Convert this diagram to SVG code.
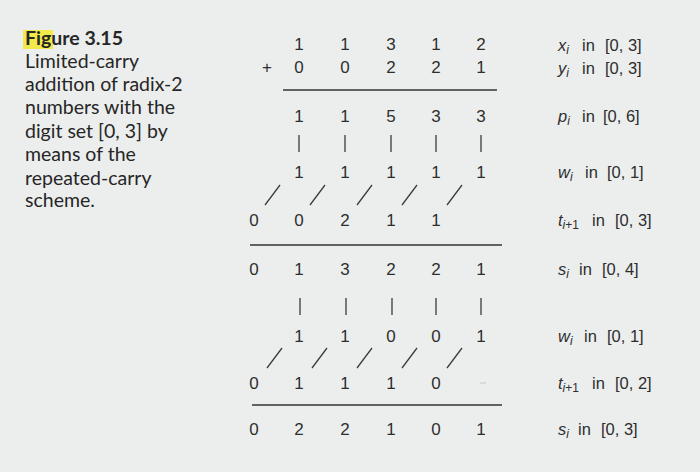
<svg xmlns="http://www.w3.org/2000/svg" width="700" height="472" viewBox="0 0 700 472">
<style>
.cap{font-family:Lato,"Open Sans","Liberation Sans",sans-serif;font-size:19.5px;fill:#262626}
.d{font-family:"Liberation Sans",Arial,sans-serif;font-size:17px;fill:#2e2e2e;text-anchor:middle}
.lb{font-family:"Liberation Sans",Arial,sans-serif;font-size:16.5px;fill:#2e2e2e}
.it{font-style:italic}
.sub{font-size:12px}
.ln{stroke:#333;stroke-width:1.6;fill:none}
.cn{stroke:#3a3a3a;stroke-width:1.3;fill:none}
</style>
<rect width="700" height="472" fill="#eceeed"/>
<g id="caption">
<rect x="23" y="30" width="30" height="19" fill="#f2ea4a"/>
<text class="cap" x="25" y="45"><tspan font-weight="bold">Figure 3.15</tspan></text>
<text class="cap" x="25" y="68">Limited-carry</text>
<text class="cap" x="25" y="91">addition of radix-2</text>
<text class="cap" x="25" y="114">numbers with the</text>
<text class="cap" x="25" y="138">digit set [0, 3] by</text>
<text class="cap" x="25" y="161">means of the</text>
<text class="cap" x="25" y="185">repeated-carry</text>
<text class="cap" x="25" y="207">scheme.</text>
</g>
<g id="rules">
<line class="ln" x1="283" y1="90" x2="497" y2="90"/>
<line class="ln" x1="250" y1="245" x2="502" y2="245"/>
<line class="ln" x1="252" y1="405" x2="502" y2="405"/>
</g>
<g id="row-x">
<text class="d" x="299" y="50">1</text><text class="d" x="345" y="50">1</text><text class="d" x="391" y="50">3</text><text class="d" x="436" y="50">1</text><text class="d" x="481" y="50">2</text>
</g>
<g id="row-y">
<text class="d" x="267" y="73">+</text>
<text class="d" x="299" y="73">0</text><text class="d" x="345" y="73">0</text><text class="d" x="391" y="73">2</text><text class="d" x="436" y="73">2</text><text class="d" x="481" y="73">1</text>
</g>
<g id="row-p">
<text class="d" x="299" y="122">1</text><text class="d" x="345" y="122">1</text><text class="d" x="391" y="122">5</text><text class="d" x="436" y="122">3</text><text class="d" x="481" y="122">3</text>
</g>
<g id="row-w1">
<text class="d" x="299" y="178">1</text><text class="d" x="345" y="178">1</text><text class="d" x="391" y="178">1</text><text class="d" x="436" y="178">1</text><text class="d" x="481" y="178">1</text>
</g>
<g id="row-t1">
<text class="d" x="254" y="226">0</text><text class="d" x="299" y="226">0</text><text class="d" x="345" y="226">2</text><text class="d" x="391" y="226">1</text><text class="d" x="436" y="226">1</text>
</g>
<g id="row-s1">
<text class="d" x="254" y="275">0</text><text class="d" x="299" y="275">1</text><text class="d" x="345" y="275">3</text><text class="d" x="391" y="275">2</text><text class="d" x="436" y="275">2</text><text class="d" x="481" y="275">1</text>
</g>
<g id="row-w2">
<text class="d" x="299" y="342">1</text><text class="d" x="345" y="342">1</text><text class="d" x="391" y="342">0</text><text class="d" x="436" y="342">0</text><text class="d" x="481" y="342">1</text>
</g>
<g id="row-t2">
<text class="d" x="254" y="389">0</text><text class="d" x="299" y="389">1</text><text class="d" x="345" y="389">1</text><text class="d" x="391" y="389">1</text><text class="d" x="436" y="389">0</text>
<line x1="480" y1="383" x2="486" y2="383" stroke="#c8c8c8" stroke-width="1"/>
</g>
<g id="row-s2">
<text class="d" x="254" y="435">0</text><text class="d" x="299" y="435">2</text><text class="d" x="345" y="435">2</text><text class="d" x="391" y="435">1</text><text class="d" x="436" y="435">0</text><text class="d" x="481" y="435">1</text>
</g>
<g id="connectors">
<line class="cn" x1="299" y1="135" x2="299" y2="152"/><line class="cn" x1="345" y1="135" x2="345" y2="152"/><line class="cn" x1="391" y1="135" x2="391" y2="152"/><line class="cn" x1="436" y1="135" x2="436" y2="152"/><line class="cn" x1="481" y1="135" x2="481" y2="152"/>
<line class="cn" x1="265" y1="205" x2="280" y2="185"/><line class="cn" x1="310" y1="205" x2="325" y2="185"/><line class="cn" x1="357" y1="205" x2="372" y2="185"/><line class="cn" x1="402" y1="205" x2="417" y2="185"/><line class="cn" x1="447" y1="205" x2="462" y2="185"/>
<line class="cn" x1="300" y1="298" x2="300" y2="315"/><line class="cn" x1="346" y1="298" x2="346" y2="315"/><line class="cn" x1="392" y1="298" x2="392" y2="315"/><line class="cn" x1="436" y1="298" x2="436" y2="315"/><line class="cn" x1="481" y1="298" x2="481" y2="315"/>
<line class="cn" x1="267" y1="368" x2="282" y2="348"/><line class="cn" x1="312" y1="368" x2="327" y2="348"/><line class="cn" x1="357" y1="368" x2="372" y2="348"/><line class="cn" x1="402" y1="368" x2="417" y2="348"/><line class="cn" x1="447" y1="368" x2="462" y2="348"/>
</g>
<g id="labels">
<text class="lb" x="558" y="51"><tspan class="it">x</tspan><tspan class="it sub" dy="3">i</tspan><tspan x="582" dy="-3">in</tspan><tspan x="605">[0, 3]</tspan></text>
<text class="lb" x="558" y="74"><tspan class="it">y</tspan><tspan class="it sub" dy="3">i</tspan><tspan x="582" dy="-3">in</tspan><tspan x="605">[0, 3]</tspan></text>
<text class="lb" x="558" y="122"><tspan class="it">p</tspan><tspan class="it sub" dy="3">i</tspan><tspan x="582" dy="-3">in</tspan><tspan x="603">[0, 6]</tspan></text>
<text class="lb" x="558" y="178"><tspan class="it">w</tspan><tspan class="it sub" dy="3">i</tspan><tspan x="585" dy="-3">in</tspan><tspan x="607">[0, 1]</tspan></text>
<text class="lb" x="558" y="226"><tspan class="it">t</tspan><tspan class="sub" dy="3"><tspan class="it">i</tspan>+1</tspan><tspan x="592" dy="-3">in</tspan><tspan x="615">[0, 3]</tspan></text>
<text class="lb" x="558" y="275"><tspan class="it">s</tspan><tspan class="it sub" dy="3">i</tspan><tspan x="579" dy="-3">in</tspan><tspan x="602">[0, 4]</tspan></text>
<text class="lb" x="558" y="342"><tspan class="it">w</tspan><tspan class="it sub" dy="3">i</tspan><tspan x="584" dy="-3">in</tspan><tspan x="607">[0, 1]</tspan></text>
<text class="lb" x="558" y="389"><tspan class="it">t</tspan><tspan class="sub" dy="3"><tspan class="it">i</tspan>+1</tspan><tspan x="592" dy="-3">in</tspan><tspan x="615">[0, 2]</tspan></text>
<text class="lb" x="558" y="435"><tspan class="it">s</tspan><tspan class="it sub" dy="3">i</tspan><tspan x="578" dy="-3">in</tspan><tspan x="601">[0, 3]</tspan></text>
</g>
</svg>
